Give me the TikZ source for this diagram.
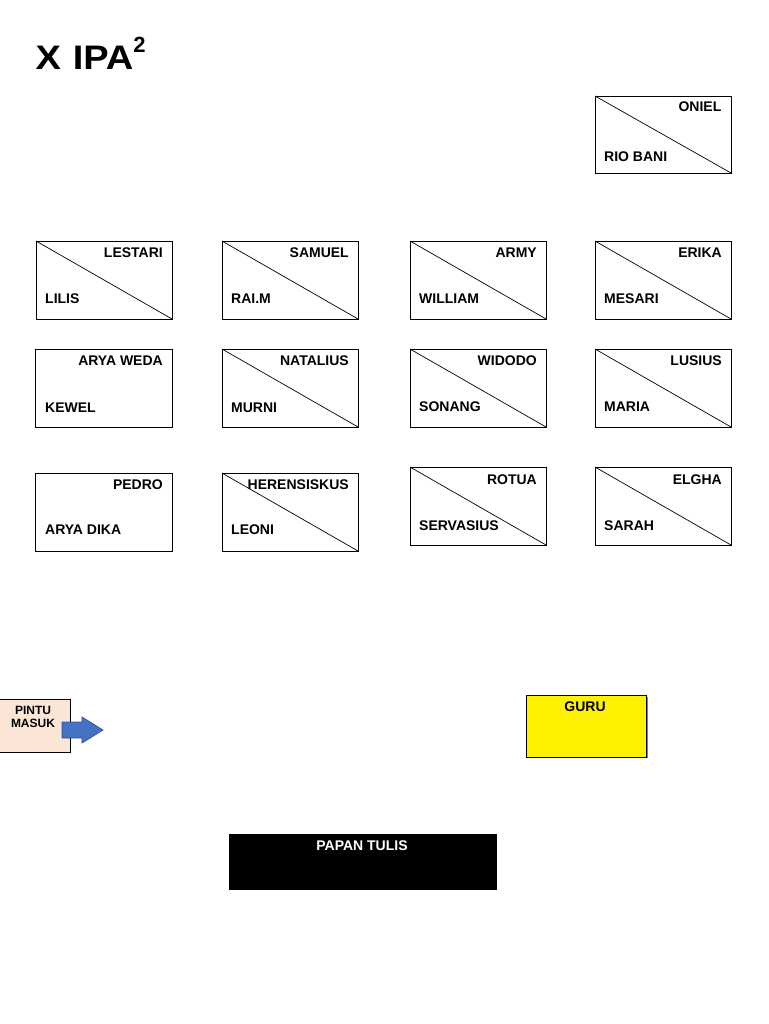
\documentclass[tikz,border=0pt]{standalone}
\usepackage{fontspec}
\setmainfont{Liberation Sans}
\usetikzlibrary{calc}
\definecolor{doorfill}{HTML}{FBE5D6}
\definecolor{arrowblue}{HTML}{4472C4}
\definecolor{arrowedge}{HTML}{2F528F}
\begin{document}
\begin{tikzpicture}[x=1pt,y=-1pt,
  seat/.style={draw=black, line width=0.8pt, minimum width=136pt, minimum height=78pt, inner sep=0pt, outer sep=0pt},
  nm/.style={font=\fontsize{14}{16}\selectfont\bfseries, inner sep=0pt, yshift=-1pt},
  diagline/.style={line width=0.7pt}]
\useasboundingbox (0,0) rectangle (768,1024);
% title
\node[anchor=base west, inner sep=0pt, font=\fontsize{34}{40}\selectfont\bfseries] (title) at (35.5,69.5)
  {\scalebox{1.12}[1]{X\hspace{1pt} IPA}\raisebox{16.5pt}{\fontsize{22}{24}\selectfont 2}};
% seats
\node[seat, minimum height=77pt] (s0) at (663,134.5) {};
\node[nm, anchor=east] (s0t) at (721.5,106) {ONIEL};
\node[nm, anchor=west] (s0b) at (604,156) {RIO BANI};
\draw[diagline] (s0.north west) -- (s0.south east);
% row 1
\node[seat] (s11) at (104,280) {};
\node[nm, anchor=east] (s11t) at (163,252) {LESTARI};
\node[nm, anchor=west] (s11b) at (45,298) {LILIS};
\draw[diagline] (s11.north west) -- (s11.south east);
\node[seat] (s12) at (290,280) {};
\node[nm, anchor=east] (s12t) at (349,252) {SAMUEL};
\node[nm, anchor=west] (s12b) at (231,298) {RAI.M};
\draw[diagline] (s12.north west) -- (s12.south east);
\node[seat] (s13) at (478,280) {};
\node[nm, anchor=east] (s13t) at (537,252) {ARMY};
\node[nm, anchor=west] (s13b) at (419,298) {WILLIAM};
\draw[diagline] (s13.north west) -- (s13.south east);
\node[seat] (s14) at (663,280) {};
\node[nm, anchor=east] (s14t) at (722,252) {ERIKA};
\node[nm, anchor=west] (s14b) at (604,298) {MESARI};
\draw[diagline] (s14.north west) -- (s14.south east);
% row 2
\node[seat, minimum width=137pt] (s21) at (103.5,388) {};
\node[nm, anchor=east] (s21t) at (163,360) {ARYA WEDA};
\node[nm, anchor=west] (s21b) at (45,407) {KEWEL};
\node[seat] (s22) at (290,388) {};
\node[nm, anchor=east] (s22t) at (349,360) {NATALIUS};
\node[nm, anchor=west] (s22b) at (231,407) {MURNI};
\draw[diagline] (s22.north west) -- (s22.south east);
\node[seat] (s23) at (478,388) {};
\node[nm, anchor=east] (s23t) at (537,360) {WIDODO};
\node[nm, anchor=west] (s23b) at (419,406) {SONANG};
\draw[diagline] (s23.north west) -- (s23.south east);
\node[seat] (s24) at (663,388) {};
\node[nm, anchor=east] (s24t) at (722,360) {LUSIUS};
\node[nm, anchor=west] (s24b) at (604,406) {MARIA};
\draw[diagline] (s24.north west) -- (s24.south east);
% row 3
\node[seat, minimum width=137pt] (s31) at (103.5,512) {};
\node[nm, anchor=east] (s31t) at (163,484) {PEDRO};
\node[nm, anchor=west] (s31b) at (45,529) {ARYA DIKA};
\node[seat] (s32) at (290,512) {};
\node[nm, anchor=east] (s32t) at (349,484) {HERENSISKUS};
\node[nm, anchor=west] (s32b) at (231,529) {LEONI};
\draw[diagline] (s32.north west) -- (s32.south east);
\node[seat] (s33) at (478,506) {};
\node[nm, anchor=east] (s33t) at (537,479) {ROTUA};
\node[nm, anchor=west] (s33b) at (419,525) {SERVASIUS};
\draw[diagline] (s33.north west) -- (s33.south east);
\node[seat] (s34) at (663,506) {};
\node[nm, anchor=east] (s34t) at (722,479) {ELGHA};
\node[nm, anchor=west] (s34b) at (604,525) {SARAH};
\draw[diagline] (s34.north west) -- (s34.south east);
% door
\node[draw=black, line width=0.8pt, fill=doorfill, minimum width=73pt, minimum height=53pt, inner sep=0pt] (door) at (33.5,725.5) {};
\node[inner sep=0pt, align=center, font=\fontsize{12}{13}\selectfont\bfseries] (doort) at (33,717) {PINTU\\MASUK};
\draw[fill=arrowblue, draw=arrowedge, line width=0.7pt] (62,722) -- (82,722) -- (82,717) -- (103,730) -- (82,743) -- (82,738) -- (62,738) -- cycle;
% guru
\draw[gray, line width=1.2pt] (647.5,697) -- (647.5,758);
\node[draw=black, line width=0.8pt, fill=yellow, minimum width=120pt, minimum height=62pt, inner sep=0pt] (guru) at (586,726) {};
\node[nm] (gurut) at (585,706) {GURU};
% board
\node[fill=black, minimum width=268pt, minimum height=56pt, inner sep=0pt] (board) at (363,862) {};
\node[nm, text=white] (boardt) at (362,845) {PAPAN TULIS};
\end{tikzpicture}
\end{document}
